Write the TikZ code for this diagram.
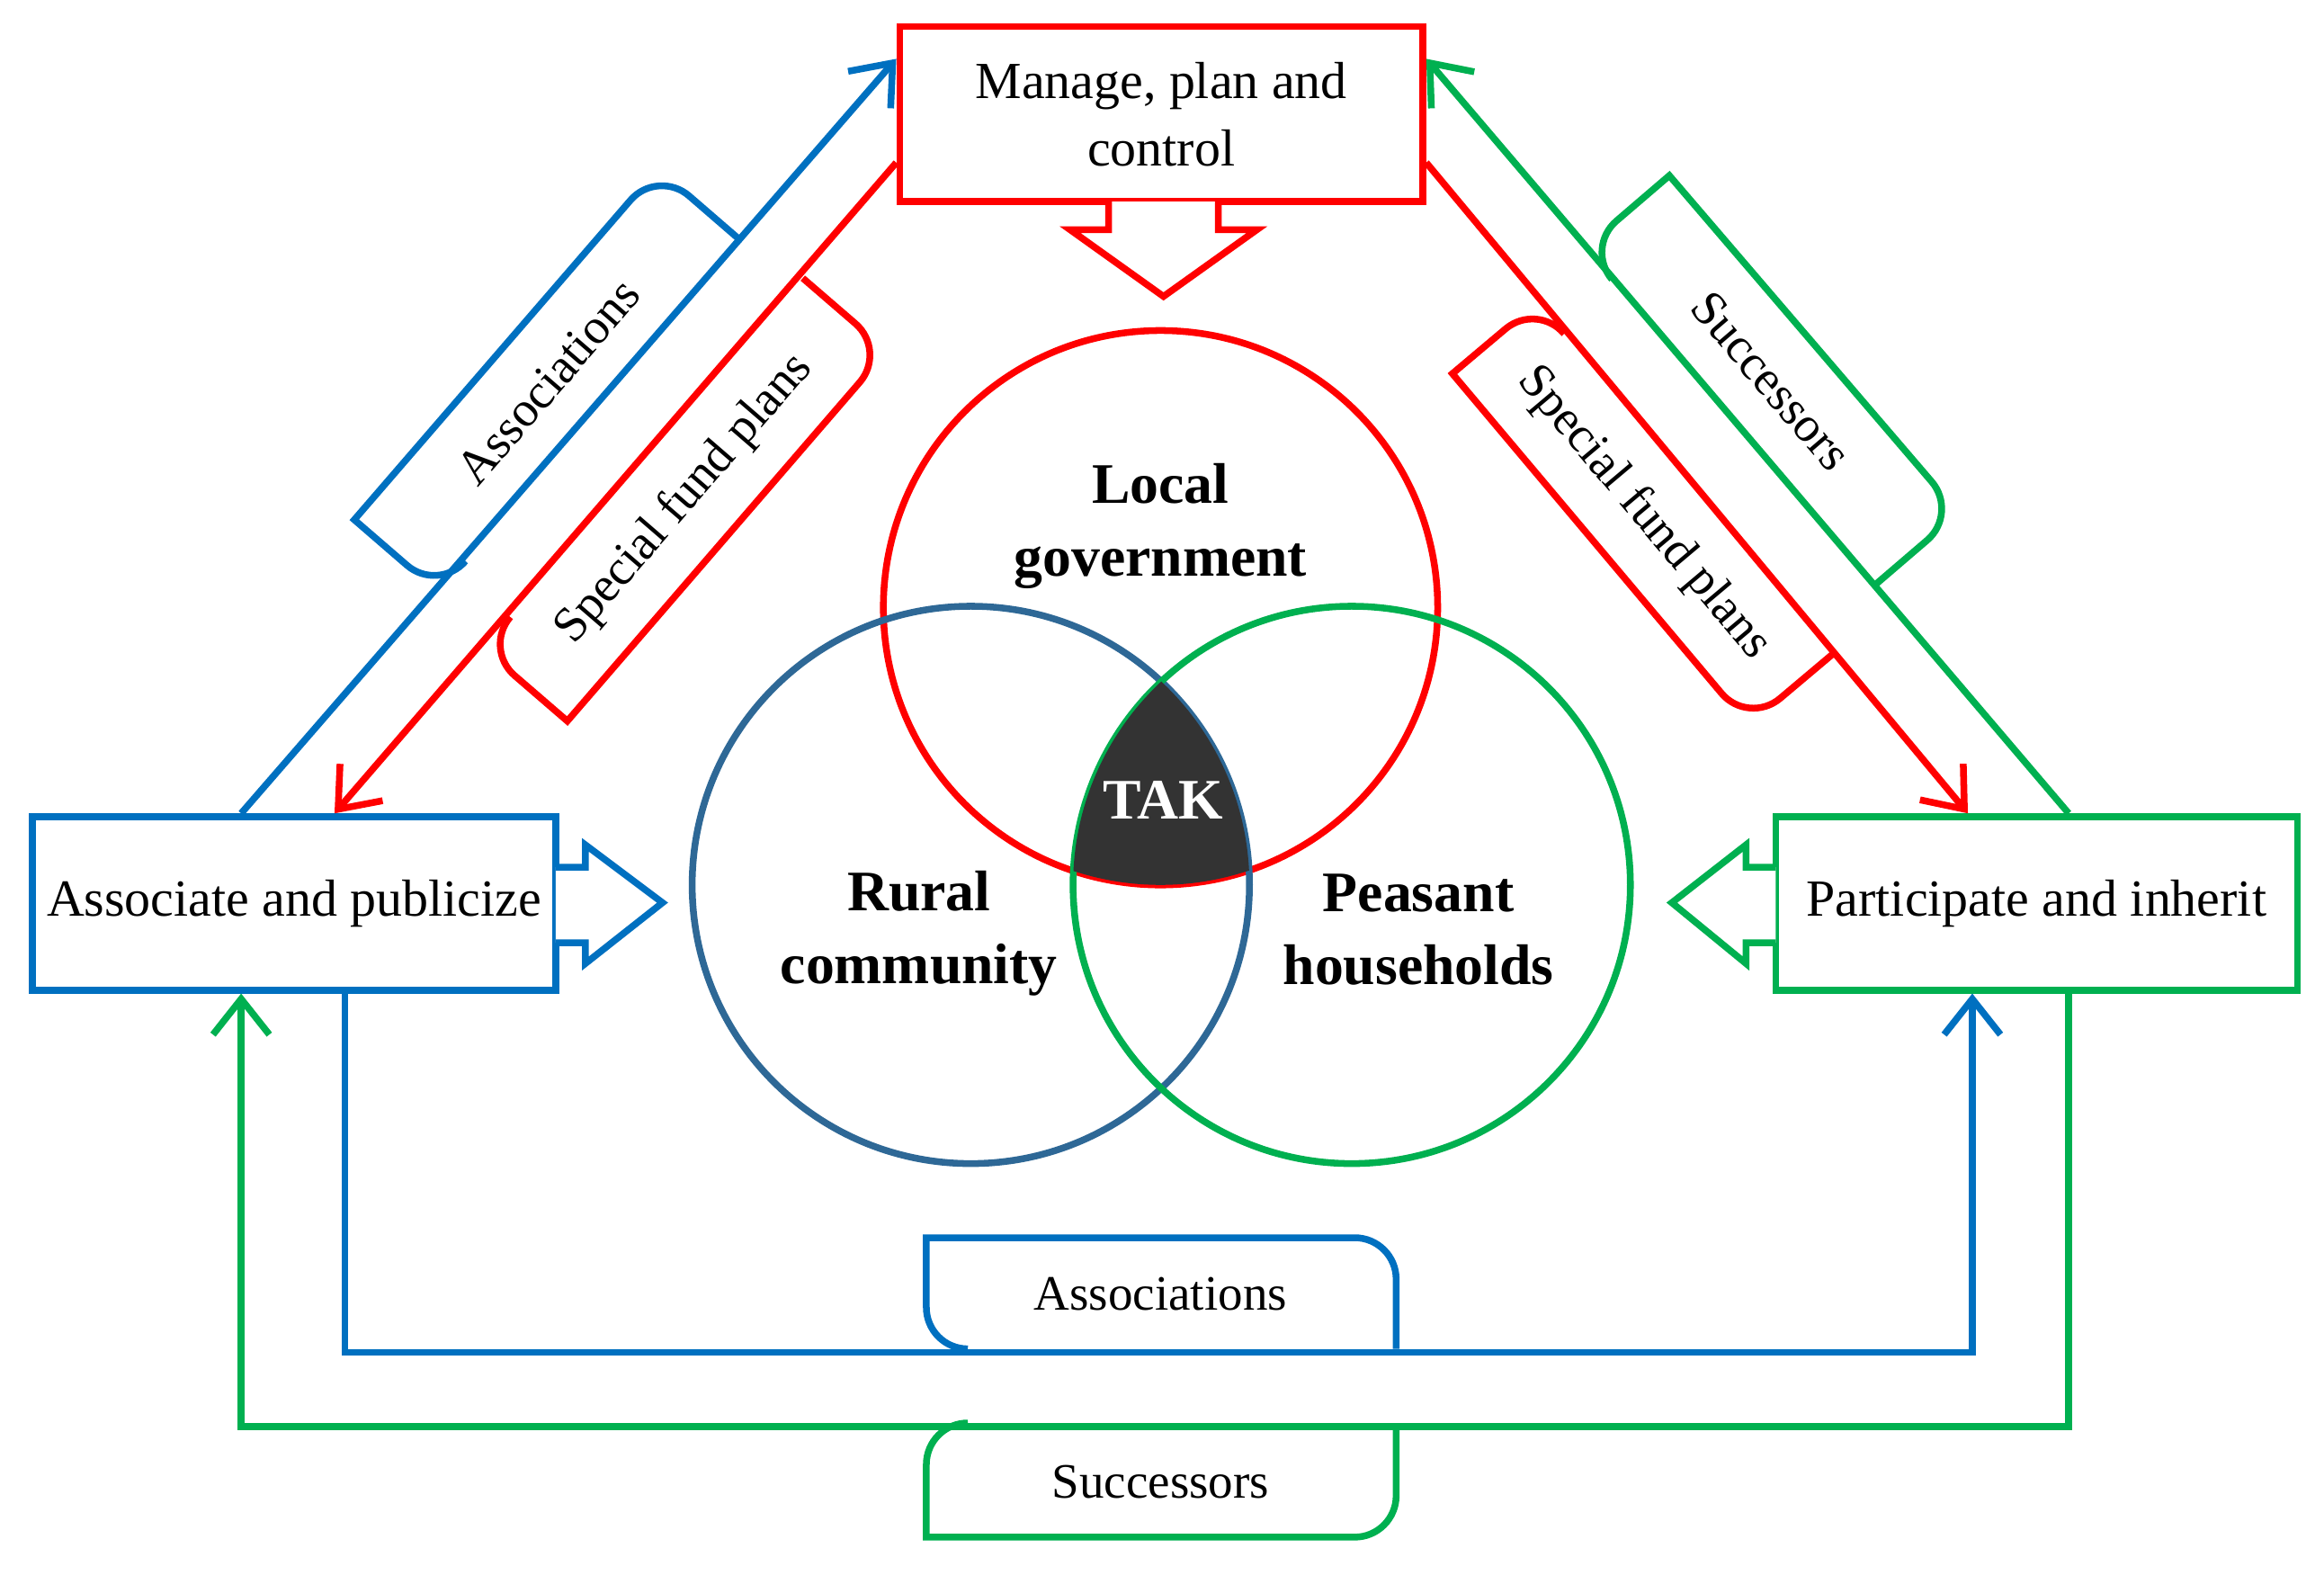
\documentclass[tikz,border=0pt]{standalone}
\usepackage{fontspec}
\setmainfont{Liberation Serif}
\usetikzlibrary{arrows.meta,calc}
\definecolor{cred}{RGB}{255,0,0}
\definecolor{cblue}{RGB}{0,112,192}
\definecolor{cgreen}{RGB}{0,176,80}
\definecolor{csteel}{RGB}{46,104,150}
\tikzset{
>={Straight Barb[length=2.4mm,width=3.8mm]},
box/.style={draw=#1,line width=1.3pt,fill=white,inner sep=0pt,font=\fontsize{10}{13}\selectfont,align=center},
link/.style={line width=1.3pt},
tab/.style={draw=#1,line width=1.3pt,fill=white},
tabtext/.style={font=\fontsize{9.5}{11}\selectfont},
ring/.style={line width=1.3pt},
blocky/.style={draw=#1,line width=1.3pt,fill=white,line join=miter},
big/.style={font=\bfseries\fontsize{11}{14}\selectfont,align=center},
}
% one tab beside a connector, in the frame of that connector
\newcommand\tabpath[3]{(#1+28,0) to[out=180,in=-90] (#1,28) -- (#1,#3) -- (#2-28,#3) arc[start angle=90,end angle=0,radius=28] -- (#2,0)}

\begin{document}
\begin{tikzpicture}[x=0.1mm,y=0.1mm]
\useasboundingbox (0,0) rectangle (1568,1062);

% circles
\draw[ring,cred] (783,652) circle[radius=187];
\draw[ring,csteel] (655,465) circle[radius=188];
\draw[ring,cgreen] (912,465) circle[radius=188];
\begin{scope}
  \clip (783,652) circle[radius=187];
  \clip (655,465) circle[radius=188];
  \fill[black!80] (912,465) circle[radius=188];
\end{scope}
\node[big] (lg) at (783,707) {Local\\government};
\node[big] (rc) at (620,432) {Rural\\community};
\node[big] (ph) at (957,435) {Peasant\\households};
\node[big,white] (tak) at (785,522) {TAK};

% tabs
\begin{scope}[shift={(165,511)},rotate=49.16]
  \draw[tab=cblue] \tabpath{200}{513}{75};
  \node[tabtext,rotate=49.16] at (356,37) {Associations};
\end{scope}
\begin{scope}[shift={(228,511)},rotate=49.2,yscale=-1]
  \draw[tab=cred] \tabpath{150}{480}{75};
  \node[tabtext,rotate=49.2] at (315,37) {Special fund plans};
\end{scope}
\begin{scope}[shift={(962,1020)},rotate=-49.4]
  \draw[tab=cgreen] \tabpath{165}{465}{75};
  \node[tabtext,rotate=-49.4] at (315,37) {Successors};
\end{scope}
\begin{scope}[shift={(960,950)},rotate=-49.9,yscale=-1]
  \draw[tab=cred] \tabpath{120}{430}{75};
  \node[tabtext,rotate=-49.9] at (275,37) {Special fund plans};
\end{scope}
\begin{scope}[shift={(0,152)}]
  \draw[tab=cblue] \tabpath{625}{942}{75};
  \node[tabtext] at (783,37) {Associations};
\end{scope}
\begin{scope}[shift={(0,102)},yscale=-1]
  \draw[tab=cgreen] \tabpath{625}{942}{77};
  \node[tabtext] at (783,40) {Successors};
\end{scope}

% boxes
\node[box=cred,minimum width=35.3mm,minimum height=11.8mm] (tbox) at (783.5,985) {Manage, plan and\\control};
\node[box=cblue,minimum width=35.3mm,minimum height=11.7mm] (lbox) at (198.5,452.5) {Associate and publicize};
\node[box=cgreen,minimum width=35.2mm,minimum height=11.7mm] (rbox) at (1374,452.5) {Participate and inherit};

% hollow block arrows
\draw[blocky=cred] (748,926) -- (748,907) -- (722,907) -- (785,862) -- (848,907) -- (822,907) -- (822,926);
\draw[blocky=cblue] (375,477) -- (395,477) -- (395,492) -- (447,453) -- (395,412) -- (395,426) -- (375,426);
\draw[blocky=cgreen] (1198,477) -- (1178,477) -- (1178,492) -- (1128,453) -- (1178,412) -- (1178,426) -- (1198,426);

% diagonal connectors
\draw[link,cblue,->] ([xshift=14.3mm]lbox.north west) -- ([yshift=-2.4mm]tbox.north west);
\draw[link,cred,->] ([yshift=-9.4mm]tbox.north west) -- ([xshift=20.6mm]lbox.north west);
\draw[link,cgreen,->] ([xshift=20mm]rbox.north west) -- ([yshift=-2.4mm]tbox.north east);
\draw[link,cred,->] ([yshift=-9.4mm]tbox.north east) -- ([xshift=13.2mm]rbox.north west);

% bottom connectors
\draw[link,cblue,->] ([xshift=21.3mm]lbox.south west) -- ++(0,-242) -| ([xshift=13.5mm]rbox.south west);
\draw[link,cgreen,->] ([xshift=20mm]rbox.south west) -- ++(0,-292) -| ([xshift=14.3mm]lbox.south west);
\end{tikzpicture}
\end{document}
